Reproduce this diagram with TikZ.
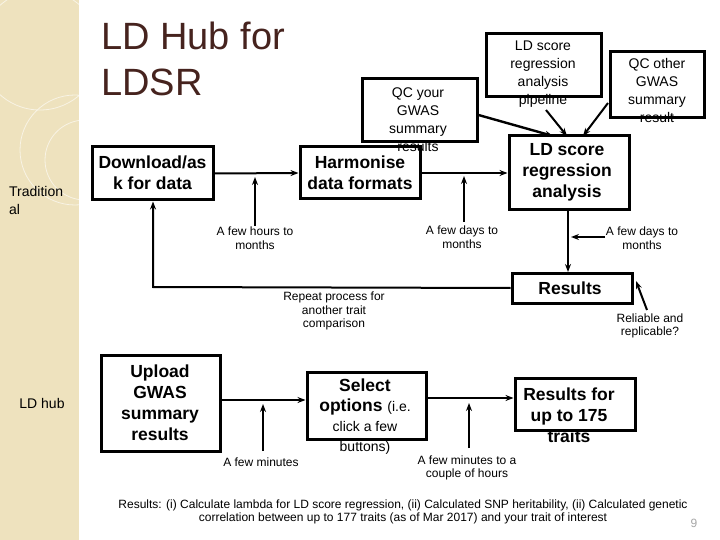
\documentclass[tikz,border=0pt]{standalone}
\usepackage{fontspec}
\setmainfont{Liberation Sans}
\usetikzlibrary{arrows.meta}
\begin{document}
\begin{tikzpicture}[x=1pt,y=-1pt,
  box/.style={draw,line width=3pt,inner sep=0pt},
  arr/.style={line width=2pt,-{Stealth[length=8pt,width=6pt]}},
  thin/.style={line width=2.4pt,-{Stealth[length=8pt,width=6pt]}},
  bt/.style={font=\fontsize{17.5}{21}\selectfont\bfseries,align=center,inner sep=0pt},
  nt/.style={font=\fontsize{14}{18}\selectfont,align=center,inner sep=0pt},
  lt/.style={font=\fontsize{12}{13.5}\selectfont,align=center,inner sep=0pt}]
\useasboundingbox (0,0) rectangle (720,540);
\fill[white] (0,0) rectangle (720,540);
\fill[color={rgb,255:red,238;green,226;blue,190}] (0,0) rectangle (79,540);
\begin{scope}[draw=white,opacity=0.6,line width=0.8pt]
\draw (40,50) circle (60);
\draw (75,150) circle (55);
\draw (85,160) circle (40);
\end{scope}
\node[anchor=west,font=\fontsize{38}{44}\selectfont,text={rgb,255:red,70;green,35;blue,30},inner sep=0pt] (t1) at (101,36) {LD Hub for};
\node[anchor=west,font=\fontsize{38}{44}\selectfont,text={rgb,255:red,70;green,35;blue,30},inner sep=0pt] (t2) at (101,82) {LDSR};
\node[anchor=west,nt,align=left] (trad) at (9,200) {Tradition\\al};
\node[nt] (ldhub) at (42,403) {LD hub};
% boxes
\node[box,minimum width=121pt,minimum height=53pt] (dl) at (152.5,173.5) {};
\node[bt] at (152.5,173) {Download/as\\k for data};
\node[box,minimum width=120pt,minimum height=52pt] (harm) at (360,173) {};
\node[bt] at (360,173) {Harmonise\\data formats};
\node[box,minimum width=115pt,minimum height=63pt] (qc) at (419.5,110.5) {};
\node[nt] at (418,120) {QC your\\GWAS\\summary\\results};
\node[box,minimum width=115pt,minimum height=63pt] (pipe) at (543.5,65.5) {};
\node[nt] at (543,74) {LD score\\regression\\analysis\\pipeline};
\node[box,minimum width=94pt,minimum height=66pt] (qco) at (657,85) {};
\node[nt] at (657,90) {QC other\\GWAS\\summary\\result};
\node[box,minimum width=120pt,minimum height=74pt] (ldsr) at (569,173) {};
\node[bt] at (567,172.5) {LD score\\regression\\analysis};
\node[box,minimum width=120pt,minimum height=30pt] (res) at (572,288) {};
\node[bt] at (570,288) {Results};
\node[box,minimum width=119pt,minimum height=96pt] (up) at (160.5,403) {};
\node[bt] at (160,403) {Upload\\GWAS\\summary\\results};
\node[box,minimum width=119pt,minimum height=67pt] (sel) at (366.5,405.5) {};
\node[font=\fontsize{17.5}{20}\selectfont,align=center,inner sep=0pt] at (365,416.5) {\textbf{Select}\\\textbf{options} {\fontsize{14}{18}\selectfont(i.e.}\\{\fontsize{14}{18}\selectfont click a few}\\{\fontsize{14}{18}\selectfont buttons)}};
\node[box,minimum width=120pt,minimum height=52pt] (rf) at (575,404) {};
\node[bt] at (569,415) {Results for\\up to 175\\traits};
% main arrows
\draw[arr] (dl.east) -- (harm.west);
\draw[thin] (harm.east) -- (ldsr.west);
\draw[thin] (qc.east |- 0,115) -- (553,136);
\draw[arr] (546,110) -- (567,136);
\draw[arr] (608,103) -- (583,136);
\draw[arr] (568,210) -- (568,272);
\draw[arr] (res.west) -- (153,287) -- (dl.south -| 153,0);
\draw[thin] (up.east |- 0,400) -- (sel.west |- 0,400);
\draw[arr] (sel.east |- 0,398) -- (rf.west |- 0,398);
% labels
\node[lt] (l1) at (255,238) {A few hours to\\months};
\coordinate (a1) at (255,177);
\draw[arr] (255,226) -- (a1);
\node[lt] (l2) at (462,237) {A few days to\\months};
\coordinate (a2) at (464,176);
\draw[arr] (464,222) -- (a2);
\node[lt] (l3) at (642,238) {A few days to\\months};
\draw[arr] (605,237) -- (571,237);
\node[lt] (l4) at (334,311) {Repeat process for\\another trait\\comparison};
\node[lt] (l5) at (650,326) {Reliable and\\replicable?};
\draw[arr] (647,310) -- (636,281);
\node[lt] (l6) at (261,462) {A few minutes};
\draw[arr] (263,451) -- (263,404);
\node[lt] (l7) at (467,468) {A few minutes to a\\couple of hours};
\draw[arr] (469,448) -- (469,403);
\node[lt] (note) at (403,512) {Results: (i) Calculate lambda for LD score regression, (ii) Calculated SNP heritability, (ii) Calculated genetic\\correlation between up to 177 traits (as of Mar 2017) and your trait of interest};
\node[lt,text=gray!70] (pg) at (694,523) {9};
\end{tikzpicture}
\end{document}
